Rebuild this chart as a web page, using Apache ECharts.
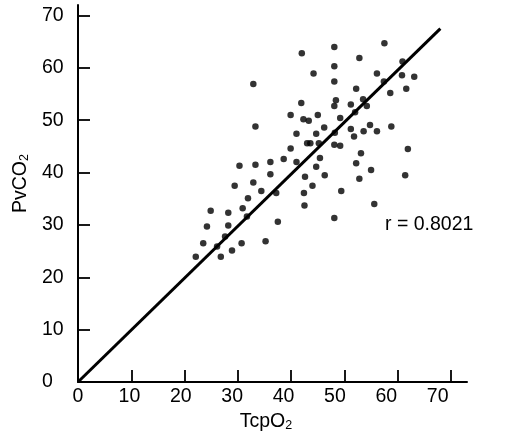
<!DOCTYPE html>
<html>
<head>
<meta charset="utf-8">
<script src="https://cdn.jsdelivr.net/npm/echarts@6/dist/echarts.min.js"></script>
<style>
html,body{margin:0;padding:0;background:#fff;}
#c{width:525px;height:437px;}
</style>
</head>
<body>
<div id="c"></div>
<script>
var tcpo2 = [48.1,57.5,42.0,52.8,60.9,48.1,44.2,56.1,60.8,63.1,48.1,57.4,32.9,52.2,61.6,58.6,48.4,53.5,41.9,51.2,48.1,54.2,52.0,39.9,45.0,42.3,43.3,49.2,33.3,46.2,58.8,51.2,54.8,53.6,56.1,41.0,44.7,48.2,51.8,43.0,43.6,45.2,48.1,49.2,39.9,61.9,53.1,45.4,38.6,41.0,36.1,33.3,30.3,44.7,52.2,55.0,36.1,42.6,46.3,61.4,52.8,32.9,29.4,44.0,34.4,37.2,42.4,49.4,31.9,42.5,55.6,24.9,28.2,30.9,31.7,48.1,37.5,24.2,28.2,27.6,23.5,30.7,35.2,26.1,28.9,22.1,26.8];
var pvco2 = [64.0,64.7,62.8,61.9,61.2,60.3,58.9,58.9,58.6,58.3,57.4,57.4,56.9,56.0,56.0,55.2,53.8,54.0,53.3,53.0,52.7,52.7,51.5,51.0,51.0,50.2,49.9,50.4,48.8,48.6,48.8,48.3,49.1,47.9,47.9,47.4,47.4,47.6,46.9,45.6,45.6,45.6,45.3,45.1,44.6,44.5,43.7,42.8,42.6,42.0,42.0,41.5,41.3,41.1,41.8,40.5,39.7,39.2,39.5,39.5,38.8,38.1,37.5,37.5,36.5,36.1,36.1,36.5,35.1,33.7,34.0,32.7,32.3,33.2,31.6,31.3,30.6,29.7,29.9,27.8,26.5,26.5,26.9,25.9,25.1,23.9,23.9];
var fitX = [0, 68];
var fitY = [0, 67.5];
var xTicks = [10,20,30,40,50,60,70];
var xLabels = [0,10,20,30,40,50,60,70];
var yTicks = [10,20,30,40,50,60,70];
var yLabels = [0,10,20,30,40,50,60,70];
var rText = 'r = 0.8021';

var FONT = '"Liberation Sans", Arial, sans-serif';
var pts = tcpo2.map(function(x, i){ return [x, pvco2[i]]; });
var fit = fitX.map(function(x, i){ return [x, fitY[i]]; });

var chart = echarts.init(document.getElementById('c'), null, {renderer:'canvas'});
chart.setOption({
  animation: false,
  backgroundColor: '#fff',
  grid: {left: 78, right: 58, top: 5, bottom: 55, containLabel: false, outerBoundsMode: 'none'},
  xAxis: [{
    type: 'value', min: 0, max: 73, position: 'bottom',
    axisLine: {show: true, onZero: false, lineStyle: {color: '#000', width: 2}},
    axisTick: {show: true, inside: true, length: 12, customValues: xTicks, lineStyle: {color: '#000', width: 1.8}},
    axisLabel: {show: false},
    splitLine: {show: false}
  }, {
    type: 'value', min: 0, max: 75.7, position: 'bottom',
    axisLine: {show: false, onZero: false},
    axisTick: {show: false},
    axisLabel: {show: true, customValues: xLabels, margin: 5, color: '#000', fontSize: 19.5, fontFamily: FONT},
    splitLine: {show: false},
    name: '{a|TcpO}{b|2}', nameLocation: 'middle', nameGap: 27,
    nameTextStyle: {color: '#000', fontSize: 19.5, fontFamily: FONT, padding: [0, 13, 0, 0],
      rich: {a: {fontSize: 19.5, fontFamily: FONT, color: '#000'}, b: {fontSize: 12.5, fontFamily: FONT, color: '#000', verticalAlign: 'bottom'}}}
  }],
  yAxis: {
    type: 'value', min: 0, max: 72,
    axisLine: {show: true, onZero: false, lineStyle: {color: '#000', width: 2}},
    axisTick: {show: true, inside: true, length: 12, customValues: yTicks, lineStyle: {color: '#000', width: 1.8}},
    axisLabel: {show: true, customValues: yLabels, margin: 36, align: 'left', color: '#000', fontSize: 19.5, fontFamily: FONT},
    splitLine: {show: false},
    name: '{a|PvCO}{b|2}', nameLocation: 'middle', nameGap: 37,
    nameTextStyle: {color: '#000', fontSize: 19.5, fontFamily: FONT, padding: [0, 0, 0, 20],
      rich: {a: {fontSize: 19.5, fontFamily: FONT, color: '#000'}, b: {fontSize: 12.5, fontFamily: FONT, color: '#000', verticalAlign: 'bottom'}}}
  },
  graphic: [{
    type: 'text', left: 385, top: 215,
    style: {text: rText, fill: '#000', font: '19.5px "Liberation Sans", Arial, sans-serif'}
  }],
  series: [{
    type: 'scatter', xAxisIndex: 0, data: pts, symbol: 'circle', symbolSize: 6.5,
    itemStyle: {color: '#000'}, silent: true
  }, {
    type: 'line', xAxisIndex: 0, data: fit, symbol: 'none', silent: true,
    lineStyle: {color: '#000', width: 3}, z: 3
  }]
});
</script>
</body>
</html>
